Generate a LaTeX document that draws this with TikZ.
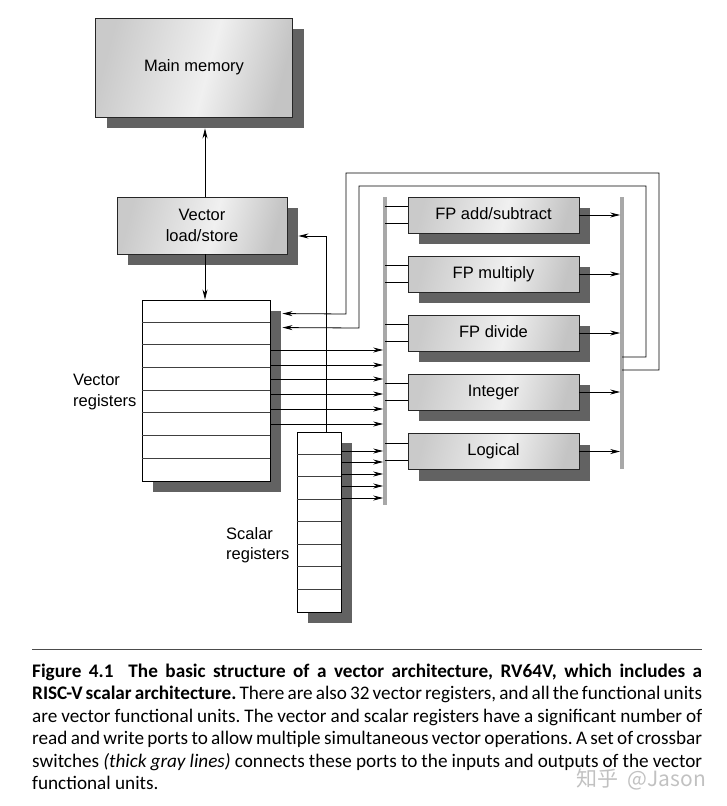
\documentclass[tikz,border=0pt]{standalone}
\usepackage{fontspec}
\setmainfont{Liberation Sans}
\newfontfamily\capfont{Carlito}
\newfontfamily\cjkfont{Noto Sans CJK SC}
\usetikzlibrary{shadows,arrows.meta,calc}
\definecolor{shadowgray}{HTML}{626262}
\definecolor{xbargray}{HTML}{A8A8A8}
\definecolor{unitedgeL}{HTML}{CACACA}
\definecolor{unitedgeR}{HTML}{C4C4C4}
\definecolor{unitmid}{HTML}{F0F0F0}
\pgfdeclarehorizontalshading{unitshade}{100bp}{color(0bp)=(unitedgeL); color(25bp)=(unitedgeL); color(54bp)=(unitmid); color(75bp)=(unitedgeR); color(100bp)=(unitedgeR)}
\begin{document}
\frenchspacing
\begin{tikzpicture}[x=1pt,y=-1pt,
  boxshadow/.style={general shadow={fill=shadowgray, shadow xshift=11pt, shadow yshift=-11pt}},
  unit/.style={boxshadow, draw=black!85, line width=0.9pt,
    shading=unitshade, shading angle=-15,
    font=\fontsize{16.5}{21}\selectfont, align=center, inner sep=0pt},
  fu/.style={unit, minimum width=171pt, minimum height=36pt, text height=12pt, text depth=3.5pt},
  regfile/.style={boxshadow, draw=black, fill=white, line width=0.9pt, inner sep=0pt},
  rowline/.style={draw=black!75, line width=0.8pt},
  xbar/.style={draw=xbargray, line width=3.6pt},
  wire/.style={draw=black, line width=0.8pt},
  arr/.style={wire, -{Stealth[length=10pt,width=5pt]}},
  xarr/.style={arr, shorten >=1.8pt},
  lbl/.style={font=\fontsize{16.5}{20.5}\selectfont, align=left, inner sep=0pt, anchor=west},
  capline/.style={font=\capfont\fontsize{19.2}{22}\selectfont, inner sep=0pt, anchor=base west}
]
\useasboundingbox (0,0) rectangle (726,806);

% main units
\node[unit, minimum width=197pt, minimum height=99pt, text height=12pt, text depth=3.5pt] (mm) at (194,67.5) {Main memory};
\node[unit, minimum width=170pt, minimum height=57pt] (ls) at (202,225.5) {Vector\\load/store};

% register files
\node[regfile, minimum width=128pt, minimum height=181pt] (vr) at (206,390.5) {};
\foreach \i in {1,...,7}
  \draw[rowline] ($(vr.north west)+(0,\i*22.625)$) -- ($(vr.north east)+(0,\i*22.625)$);
\node[regfile, minimum width=44pt, minimum height=180pt] (sr) at (319,522) {};
\foreach \i in {1,...,7}
  \draw[rowline] ($(sr.north west)+(0,\i*22.5)$) -- ($(sr.north east)+(0,\i*22.5)$);

\node[lbl] (vrl) at (73,392) {Vector\\registers};
\node[lbl] (srl) at (226,545) {Scalar\\registers};

% functional units
\node[fu] (fa) at (493.5,215) {FP add/subtract};
\node[fu] (fm) at (493.5,274) {FP multiply};
\node[fu] (fd) at (493.5,333) {FP divide};
\node[fu] (fi) at (493.5,392) {Integer};
\node[fu] (fl) at (493.5,451.5) {Logical};

% crossbars
\coordinate (xl1) at (385,197);
\coordinate (xl2) at (385,505);
\coordinate (xr1) at (622,197);
\coordinate (xr2) at (622,469);
\draw[xbar] (xl1) -- (xl2);
\draw[xbar] (xr1) -- (xr2);

% memory <-> load/store <-> vector registers
\draw[arr] ($(ls.north)+(3,0)$) -- ($(mm.south)+(11,11)$);
\draw[arr] ($(ls.south)+(3,0)$) -- ($(vr.north)+(-1,0)$);

% scalar registers -> load/store
\coordinate (lsin) at ($(ls.east)+(11,10.5)$);
\draw[arr] ($(sr.north)+(7,0)$) |- (lsin);

% vector register read ports
\foreach \y in {350,365,379,394,409,424}
  \draw[xarr] (vr.east |- 0,\y) -- (xl1 |- 0,\y);
% scalar register read ports
\foreach \y in {451,462,474,486,498}
  \draw[xarr] (sr.east |- 0,\y) -- (xl1 |- 0,\y);

% functional unit inputs and outputs
\foreach \u in {fa,fm,fd,fi,fl} {
  \draw[wire] ($(\u.north west -| xl1)+(0,10)$) -- ($(\u.north west)+(0,10)$);
  \draw[wire] ($(\u.north west -| xl1)+(0,27)$) -- ($(\u.north west)+(0,27)$);
  \draw[xarr] (\u.east) -- (\u.east -| xr1);
}

% write-back paths to vector registers
\coordinate (vin1) at ($(vr.north east)+(12,14)$);
\coordinate (vin2) at ($(vr.north east)+(12,28)$);
\draw[arr] (xr1 |- 0,370) -- (659,370) -- (659,173) -- (346,173) -- (346,314) -- (vin1);
\draw[arr] (xr1 |- 0,357) -- (646,357) -- (646,186) -- (359,186) -- (359,328) -- (vin2);

% caption
\draw[line width=1pt, black!70] (32,649) -- (702,649);
\node[capline] (c1) at (32,677) {\makebox[670pt][s]{\bfseries Figure 4.1\ \ The basic structure of a vector architecture, RV64V, which includes a}};
\node[capline] (c2) at (32,699.5) {\makebox[670pt][s]{\bfseries RISC-V scalar architecture.\mdseries{} There are also 32 vector registers, and all the functional units}};
\node[capline] (c3) at (32,722) {\makebox[670pt][s]{are vector functional units. The vector and scalar registers have a significant number of}};
\node[capline] (c4) at (32,744.5) {\makebox[670pt][s]{read and write ports to allow multiple simultaneous vector operations. A set of crossbar}};
\node[capline] (c5) at (32,767) {\makebox[670pt][s]{switches \textit{(thick gray lines)} connects these ports to the inputs and outputs of the vector}};
\node[capline] (c6) at (32,789.5) {functional units.};

% watermark
\node[anchor=base west, inner sep=0pt, text=black!30, opacity=0.8, font=\cjkfont\fontsize{21}{24}\selectfont] (wm) at (576,786) {知乎\ \ @Jason};
\end{tikzpicture}
\end{document}
